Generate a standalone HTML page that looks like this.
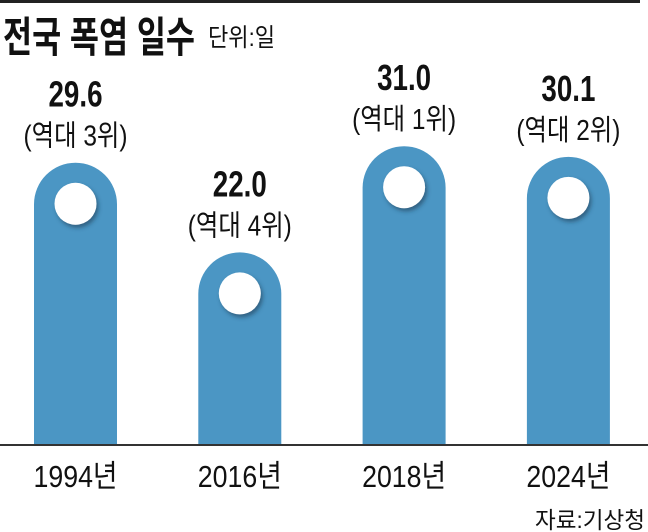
<!DOCTYPE html>
<html><head><meta charset="utf-8"><style>
html,body{margin:0;padding:0;background:#fff;}
svg{display:block;}
text{font-family:"Liberation Sans","Noto Sans CJK KR",sans-serif;fill:#111;}
</style></head><body>
<svg id="chart" width="648" height="532" viewBox="0 0 648 532" xmlns="http://www.w3.org/2000/svg">
<defs>
<filter id="sh" x="-50%" y="-50%" width="200%" height="200%"><feDropShadow dx="2" dy="3" stdDeviation="2" flood-color="#1a3a55" flood-opacity="0.6"/></filter>
</defs>
<rect x="0" y="0" width="640" height="3" fill="#222"/>
<text x="3" y="52" font-size="42" font-weight="bold" textLength="192" lengthAdjust="spacingAndGlyphs">전국 폭염 일수</text>
<text x="208" y="46" font-size="25" textLength="67" lengthAdjust="spacingAndGlyphs">단위:일</text>
<g id="bars"></g>
<rect x="0" y="444" width="648" height="2" fill="#333"/>
<text x="645" y="528" font-size="23" text-anchor="end" textLength="110" lengthAdjust="spacingAndGlyphs">자료:기상청</text>
</svg>
<script>
const categories = ["1994년", "2016년", "2018년", "2024년"];
const values = [29.6, 22.0, 31.0, 30.1];
const valueLabels = ["29.6", "22.0", "31.0", "30.1"];
const rankLabels = ["(역대 3위)", "(역대 4위)", "(역대 1위)", "(역대 2위)"];

const NS = "http://www.w3.org/2000/svg";
const baseY = 444, barW = 83, firstX = 34, step = 164.3;
function xScale(i){ return firstX + i*step; }
function yScale(v){ return baseY - (11.8*v - 68); }
const g = document.getElementById("bars");
function mk(tag, attrs){ const e = document.createElementNS(NS, tag); for (const k in attrs) e.setAttribute(k, attrs[k]); g.appendChild(e); return e; }
categories.forEach((c, i) => {
  const x = xScale(i), top = yScale(values[i]), r = barW/2, cx = x + r;
  const bar = mk("path", {d: `M${x},${baseY} L${x},${top+r} A${r},${r} 0 0 1 ${x+barW},${top+r} L${x+barW},${baseY} Z`, fill: "#4b96c4"});
  
  
  const dot = mk("circle", {cx: cx, cy: top + 41, r: 21, fill: "#fff", filter: "url(#sh)"});
  
  
  const vt = mk("text", {x: cx, y: top - 56, "font-size": 36, "font-weight": "bold", "text-anchor": "middle", textLength: 54, lengthAdjust: "spacingAndGlyphs"});
  vt.textContent = valueLabels[i];
  
  
  const rt = mk("text", {x: cx, y: top - 17, "font-size": 29, "text-anchor": "middle", textLength: 104, lengthAdjust: "spacingAndGlyphs"});
  rt.textContent = rankLabels[i];
  
  
  const ct = mk("text", {x: cx, y: 487, "font-size": 31, "text-anchor": "middle", textLength: 84, lengthAdjust: "spacingAndGlyphs"});
  ct.textContent = c;
  
  
});
</script>
</body></html>
